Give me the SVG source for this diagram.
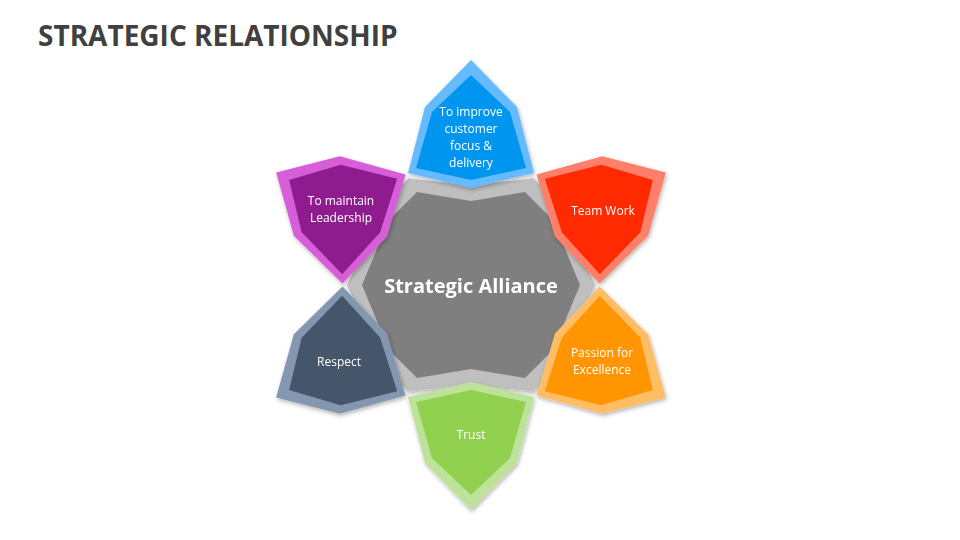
<svg xmlns="http://www.w3.org/2000/svg" width="960" height="540" viewBox="0 0 960 540">
<style>
.t{font-family:"Open Sans","Liberation Sans",sans-serif;font-size:12px;fill:#fff;text-anchor:middle}
</style>
<defs>
<polygon id="po" points="0,-225 46,-178 63,-112 0,-97 -63,-112 -46,-178"/>
<polygon id="pi" points="0,-210 39,-173 55,-117 0,-105 -55,-117 -39,-173"/>
<filter id="sh" x="-20%" y="-20%" width="140%" height="140%"><feDropShadow dx="1" dy="2" stdDeviation="2" flood-opacity="0.3"/></filter>
</defs>
<rect width="960" height="540" fill="#fff"/>
<text x="38" y="46" font-family="Open Sans,Liberation Sans,sans-serif" font-weight="bold" font-size="28" fill="#404040">STRATEGIC RELATIONSHIP</text>
<g id="center" filter="url(#sh)">
<polygon fill="#BFBFBF" transform="translate(471,285)" points="0,-100 58,-106 62,-107 107,-62 101,-50 124,0 101,50 107,62 62,107 58,106 0,100 -58,106 -62,107 -107,62 -101,50 -124,0 -101,-50 -107,-62 -62,-107 -58,-106"/>
<polygon fill="#7F7F7F" transform="translate(471,285)" points="0,-84 54,-93 93,-54 92,-41 109,0 92,41 93,54 54,93 0,84 -54,93 -93,54 -92,41 -109,0 -92,-41 -93,-54 -54,-93"/>
<text x="471" y="293" font-family="Open Sans,Liberation Sans,sans-serif" font-weight="bold" font-size="20" fill="#fff" text-anchor="middle">Strategic Alliance</text>
</g>
<g id="p1" filter="url(#sh)"><g transform="translate(471,285) rotate(0)"><use href="#po" fill="#66BBFF"/><use href="#pi" fill="#0096F0"/></g>
<text class="t" x="471" y="116">To improve</text><text class="t" x="471" y="133">customer</text><text class="t" x="471" y="150">focus &amp;</text><text class="t" x="471" y="167">delivery</text></g>
<g id="p2" filter="url(#sh)"><g transform="translate(471,285) rotate(60)"><use href="#po" fill="#FF7F6A"/><use href="#pi" fill="#FF2A00"/></g>
<text class="t" x="603" y="215">Team Work</text></g>
<g id="p3" filter="url(#sh)"><g transform="translate(471,285) rotate(120)"><use href="#po" fill="#FFBE66"/><use href="#pi" fill="#FF9500"/></g>
<text class="t" x="602" y="357">Passion for</text><text class="t" x="602" y="374">Excellence</text></g>
<g id="p4" filter="url(#sh)"><g transform="translate(471,285) rotate(180)"><use href="#po" fill="#BDE29A"/><use href="#pi" fill="#92D050"/></g>
<text class="t" x="471" y="439">Trust</text></g>
<g id="p5" filter="url(#sh)"><g transform="translate(471,285) rotate(240)"><use href="#po" fill="#8497B0"/><use href="#pi" fill="#44546A"/></g>
<text class="t" x="339" y="366">Respect</text></g>
<g id="p6" filter="url(#sh)"><g transform="translate(471,285) rotate(300)"><use href="#po" fill="#D75DD9"/><use href="#pi" fill="#8E1F8F"/></g>
<text class="t" x="341" y="205">To maintain</text><text class="t" x="341" y="222">Leadership</text></g>
<g id="connectors"/>
</svg>
